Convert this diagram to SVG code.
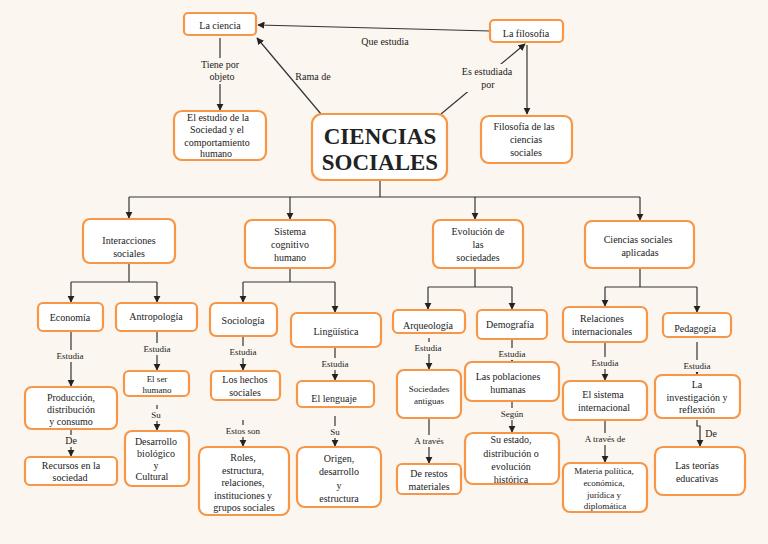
<svg xmlns="http://www.w3.org/2000/svg" width="768" height="544" viewBox="0 0 768 544">
<defs>
<marker id="a" viewBox="0 0 10 10" refX="9" refY="5" markerWidth="6" markerHeight="6" orient="auto"><path d="M0,0L10,5L0,10z" fill="#222"/></marker>
<style>
.n{fill:#fff;stroke:#f79646;stroke-width:2.2}
text{font-family:"Liberation Serif",serif;fill:#222;text-anchor:middle;font-size:10px}
.s{font-size:9px}
.c line,.c path{stroke:#333;stroke-width:1.2;fill:none}
.ar{marker-end:url(#a)}
.lb{fill:#fcf6f0}
</style>
</defs>
<rect width="768" height="544" fill="#fcf6f0"/>
<g class="c">
<line class="ar" x1="490" y1="31" x2="258" y2="25"/>
<line x1="220" y1="38" x2="220" y2="58"/><line class="ar" x1="220" y1="84" x2="220" y2="110"/>
<line class="ar" x1="321" y1="114" x2="257" y2="38"/>
<line class="ar" x1="441" y1="114" x2="525" y2="44"/>
<line class="ar" x1="527" y1="45" x2="527" y2="114"/>
<line x1="380" y1="180" x2="380" y2="197"/>
<path d="M129,197H640"/>
<line class="ar" x1="129" y1="197" x2="129" y2="218"/>
<line class="ar" x1="290" y1="197" x2="290" y2="219"/>
<line class="ar" x1="475" y1="197" x2="475" y2="219"/>
<line class="ar" x1="640" y1="197" x2="640" y2="220"/>
<line x1="129" y1="263" x2="129" y2="282"/><path d="M71,282H157"/>
<line class="ar" x1="71" y1="282" x2="71" y2="302"/><line class="ar" x1="157" y1="282" x2="157" y2="302"/>
<line x1="290" y1="268" x2="290" y2="282"/><path d="M243,282H335"/>
<line class="ar" x1="243" y1="282" x2="243" y2="302"/><line class="ar" x1="335" y1="282" x2="335" y2="312"/>
<line x1="475" y1="268" x2="475" y2="287"/><path d="M428,287H512"/>
<line class="ar" x1="428" y1="287" x2="428" y2="309"/><line class="ar" x1="512" y1="287" x2="512" y2="309"/>
<line x1="640" y1="268" x2="640" y2="287"/><path d="M605,287H697"/>
<line class="ar" x1="605" y1="287" x2="605" y2="306"/><line class="ar" x1="697" y1="287" x2="697" y2="312"/>
<line class="ar" x1="71" y1="331" x2="71" y2="386"/>
<line class="ar" x1="71" y1="429" x2="71" y2="456"/>
<line class="ar" x1="157" y1="331" x2="157" y2="370"/>
<line class="ar" x1="157" y1="405" x2="157" y2="430"/>
<line class="ar" x1="243" y1="336" x2="243" y2="370"/>
<line class="ar" x1="243" y1="420" x2="243" y2="446"/>
<line class="ar" x1="335" y1="347" x2="335" y2="380"/>
<line class="ar" x1="335" y1="416" x2="335" y2="446"/>
<line class="ar" x1="429" y1="338" x2="429" y2="369"/>
<line class="ar" x1="429" y1="418" x2="429" y2="463"/>
<line class="ar" x1="512" y1="339" x2="512" y2="361"/>
<line class="ar" x1="512" y1="401" x2="512" y2="432"/>
<line class="ar" x1="605" y1="342" x2="605" y2="380"/>
<line class="ar" x1="605" y1="420" x2="605" y2="462"/>
<line class="ar" x1="697" y1="342" x2="697" y2="374"/>
<path class="ar" d="M697,420V426H700V446"/>
</g>
<g id="labels">
<rect class="lb" x="355" y="34" width="60" height="14"/><text x="385" y="45">Que estudia</text>
<rect class="lb" x="194" y="58" width="52" height="26"/><text x="220" y="68">Tiene por</text><text x="222" y="80">objeto</text>
<text x="313" y="80">Rama de</text>
<rect class="lb" x="455" y="64" width="62" height="28"/><text x="487" y="75">Es estudiada</text><text x="488" y="88">por</text>
<rect class="lb" x="50" y="350" width="42" height="12"/><text class="s" x="70" y="359">Estudia</text>
<rect class="lb" x="137" y="343" width="40" height="12"/><text class="s" x="157" y="352">Estudia</text>
<rect class="lb" x="223" y="346" width="40" height="12"/><text class="s" x="243" y="355">Estudia</text>
<rect class="lb" x="314" y="358" width="42" height="12"/><text class="s" x="335" y="367">Estudia</text>
<rect class="lb" x="409" y="342" width="40" height="12"/><text class="s" x="428" y="351">Estudia</text>
<rect class="lb" x="492" y="348" width="40" height="12"/><text class="s" x="512" y="357">Estudia</text>
<rect class="lb" x="585" y="357" width="40" height="12"/><text class="s" x="605" y="366">Estudia</text>
<rect class="lb" x="677" y="360" width="40" height="12"/><text class="s" x="697" y="369">Estudia</text>
<rect class="lb" x="62" y="435" width="18" height="12"/><text x="71" y="444">De</text>
<rect class="lb" x="148" y="409" width="16" height="12"/><text class="s" x="156" y="418">Su</text>
<rect class="lb" x="220" y="425" width="46" height="12"/><text class="s" x="243" y="434">Estos son</text>
<rect class="lb" x="326" y="426" width="18" height="12"/><text class="s" x="335" y="435">Su</text>
<rect class="lb" x="410" y="435" width="40" height="12"/><text class="s" x="429" y="444">A través</text>
<rect class="lb" x="500" y="408" width="24" height="12"/><text class="s" x="512" y="417">Según</text>
<rect class="lb" x="582" y="433" width="46" height="12"/><text class="s" x="605" y="442">A través de</text>
<text x="711" y="437">De</text>
</g>
<g id="la-ciencia"><rect class="n" x="184" y="13" width="72" height="22" rx="4"/><text x="220" y="29">La ciencia</text></g>
<g id="la-filosofia"><rect class="n" x="490" y="20" width="73" height="22" rx="4"/><text x="526" y="37">La filosofia</text></g>
<g id="el-estudio"><rect class="n" x="174" y="111" width="92" height="49" rx="8"/><text x="218" y="121">El estudio de la</text><text x="217" y="133">Sociedad y el</text><text x="217" y="146">comportamiento</text><text x="216" y="157">humano</text></g>
<g id="ciencias-sociales"><rect class="n" x="312" y="114" width="135" height="66" rx="10"/><text x="380" y="144" style="font-size:23px;font-weight:bold">CIENCIAS</text><text x="380" y="170" style="font-size:23px;font-weight:bold">SOCIALES</text></g>
<g id="filosofia-cs"><rect class="n" x="481" y="116" width="91" height="47" rx="8"/><text x="524" y="130">Filosofía de las</text><text x="526" y="143">ciencias</text><text x="526" y="156">sociales</text></g>
<g id="interacciones"><rect class="n" x="83" y="219" width="92" height="44" rx="7"/><text x="129" y="244">Interacciones</text><text x="129" y="257">sociales</text></g>
<g id="sistema"><rect class="n" x="245" y="220" width="90" height="48" rx="7"/><text x="290" y="235">Sistema</text><text x="290" y="248">cognitivo</text><text x="290" y="261">humano</text></g>
<g id="evolucion"><rect class="n" x="433" y="220" width="90" height="48" rx="7"/><text x="478" y="235">Evolución  de</text><text x="478" y="248">las</text><text x="478" y="261">sociedades</text></g>
<g id="aplicadas"><rect class="n" x="585" y="221" width="109" height="47" rx="7"/><text x="638" y="243">Ciencias sociales</text><text x="640" y="256">aplicadas</text></g>
<g id="economia"><rect class="n" x="38" y="303" width="65" height="28" rx="5"/><text x="70" y="321">Economía</text></g>
<g id="antropologia"><rect class="n" x="116" y="303" width="81" height="28" rx="5"/><text x="156" y="320">Antropología</text></g>
<g id="sociologia"><rect class="n" x="210" y="303" width="67" height="33" rx="6"/><text x="243" y="324">Sociología</text></g>
<g id="linguistica"><rect class="n" x="291" y="313" width="90" height="34" rx="6"/><text x="336" y="335">Lingüística</text></g>
<g id="arqueologia"><rect class="n" x="393" y="310" width="72" height="23" rx="5"/><text x="428" y="329">Arqueología</text></g>
<g id="demografia"><rect class="n" x="477" y="310" width="70" height="29" rx="5"/><text x="510" y="328">Demografía</text></g>
<g id="relaciones"><rect class="n" x="563" y="307" width="84" height="35" rx="6"/><text x="602" y="322">Relaciones</text><text x="602" y="335">internacionales</text></g>
<g id="pedagogia"><rect class="n" x="663" y="313" width="68" height="24" rx="5"/><text x="695" y="332">Pedagogía</text></g>
<g id="produccion"><rect class="n" x="25" y="387" width="92" height="42" rx="7"/><text x="71" y="401">Producción,</text><text x="71" y="413">distribución</text><text x="71" y="425">y  consumo</text></g>
<g id="recursos"><rect class="n" x="25" y="457" width="92" height="28" rx="5"/><text x="71" y="469">Recursos en la</text><text x="70" y="481">sociedad</text></g>
<g id="el-ser"><rect class="n" x="124" y="371" width="65" height="25" rx="5"/><text class="s" x="157" y="382">El ser</text><text class="s" x="157" y="393">humano</text></g>
<g id="desarrollo"><rect class="n" x="125" y="431" width="64" height="55" rx="7"/><text x="156" y="445">Desarrollo</text><text x="156" y="457">biológico</text><text x="156" y="469">y</text><text x="152" y="480">Cultural</text></g>
<g id="hechos"><rect class="n" x="211" y="371" width="69" height="29" rx="5"/><text x="245" y="383">Los hechos</text><text x="245" y="396">sociales</text></g>
<g id="roles"><rect class="n" x="199" y="447" width="90" height="68" rx="8"/><text x="243" y="461">Roles,</text><text x="243" y="474">estructura,</text><text x="243" y="486">relaciones,</text><text x="243" y="499">instituciones y</text><text x="244" y="511">grupos sociales</text></g>
<g id="lenguaje"><rect class="n" x="297" y="381" width="77" height="26" rx="5"/><text x="334" y="402">El lenguaje</text></g>
<g id="origen"><rect class="n" x="297" y="447" width="84" height="60" rx="8"/><text x="339" y="462">Origen,</text><text x="339" y="475">desarrollo</text><text x="339" y="489">y</text><text x="339" y="502">estructura</text></g>
<g id="sociedades-antiguas"><rect class="n" x="397" y="370" width="64" height="48" rx="7"/><text class="s" x="429" y="392">Sociedades</text><text class="s" x="429" y="404">antiguas</text></g>
<g id="restos"><rect class="n" x="397" y="464" width="64" height="30" rx="5"/><text x="429" y="477">De restos</text><text x="429" y="490">materiales</text></g>
<g id="poblaciones"><rect class="n" x="465" y="362" width="94" height="39" rx="7"/><text x="508" y="380">Las poblaciones</text><text x="508" y="393">humanas</text></g>
<g id="su-estado"><rect class="n" x="465" y="433" width="94" height="51" rx="8"/><text x="511" y="443">Su estado,</text><text x="511" y="457">distribución o</text><text x="511" y="470">evolución</text><text x="511" y="483">histórica</text></g>
<g id="sistema-int"><rect class="n" x="563" y="381" width="84" height="39" rx="7"/><text x="603" y="398">El sistema</text><text x="604" y="411">internacional</text></g>
<g id="materia"><rect class="n" x="563" y="463" width="84" height="49" rx="7"/><text class="s" x="604" y="474">Materia política,</text><text class="s" x="604" y="486">económica,</text><text class="s" x="604" y="498">jurídica y</text><text class="s" x="605" y="509">diplomática</text></g>
<g id="investigacion"><rect class="n" x="655" y="375" width="85" height="43" rx="7"/><text x="697" y="388">La</text><text x="697" y="401">investigación y</text><text x="697" y="413">reflexión</text></g>
<g id="teorias"><rect class="n" x="655" y="447" width="90" height="48" rx="8"/><text x="697" y="469">Las teorías</text><text x="697" y="482">educativas</text></g>
</svg>
